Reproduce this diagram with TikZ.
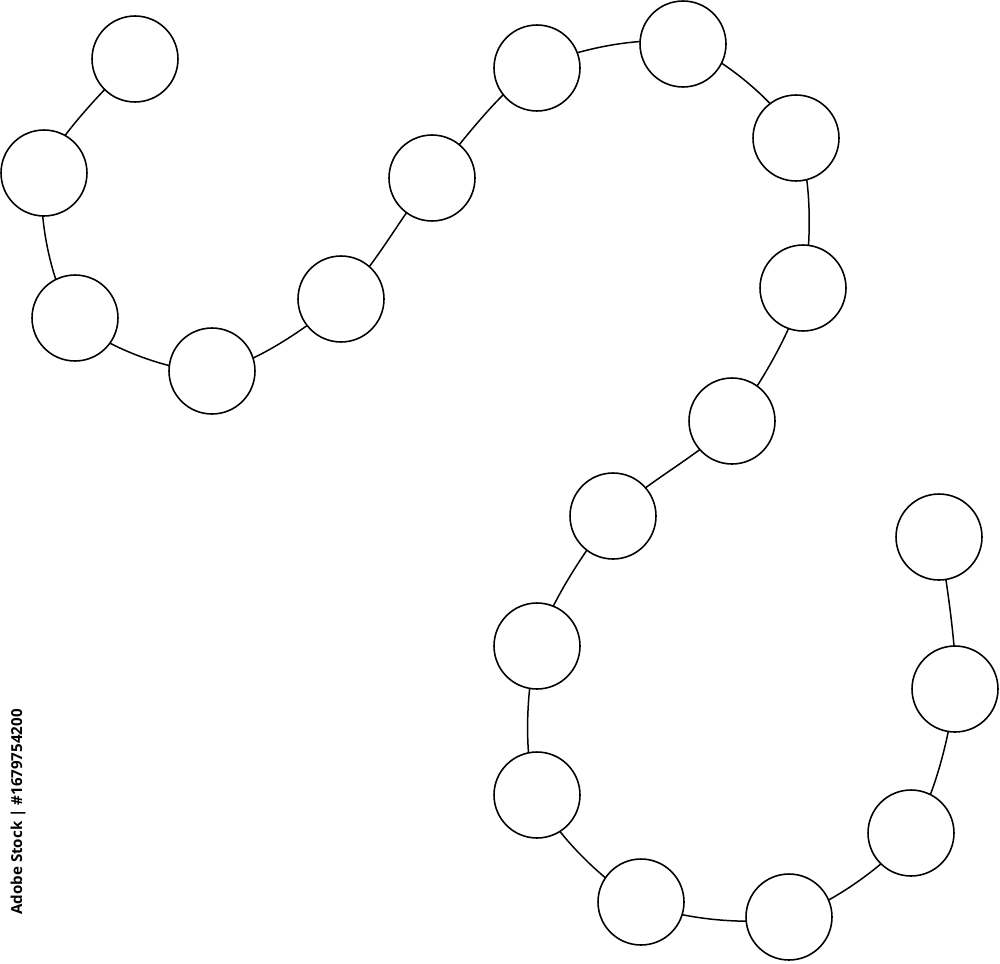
\documentclass[tikz,border=0pt]{standalone}
\usepackage{fontspec}
\newfontfamily\wmfont{Open Sans}
\usetikzlibrary{backgrounds}
\tikzset{
  ball/.style={circle, draw=black, fill=white, line width=0.9pt, minimum size=1.72cm, inner sep=0pt},
  link/.style={draw=black, line width=0.85pt},
}
\begin{document}
\begin{tikzpicture}[x=0.02cm, y=-0.02cm]
\useasboundingbox (0,0) rectangle (1000,963);
\node[ball] (n1) at (135,59) {};
\node[ball] (n2) at (44,173) {};
\node[ball] (n3) at (75,318) {};
\node[ball] (n4) at (212,371) {};
\node[ball] (n5) at (341,299) {};
\node[ball] (n6) at (432,178) {};
\node[ball] (n7) at (537,68) {};
\node[ball] (n8) at (683,44) {};
\node[ball] (n9) at (796,138) {};
\node[ball] (n10) at (803,288) {};
\node[ball] (n11) at (732,421) {};
\node[ball] (n12) at (613,516) {};
\node[ball] (n13) at (537,646) {};
\node[ball] (n14) at (537,795) {};
\node[ball] (n15) at (641,902) {};
\node[ball] (n16) at (789,917) {};
\node[ball] (n17) at (911,833) {};
\node[ball] (n18) at (955,689) {};
\node[ball] (n19) at (939,537) {};
\begin{scope}[on background layer]
\draw[link] plot[smooth] coordinates {(n1.center) (n2.center) (n3.center) (n4.center) (n5.center) (n6.center) (n7.center) (n8.center) (n9.center) (n10.center) (n11.center) (n12.center) (n13.center) (n14.center) (n15.center) (n16.center) (n17.center) (n18.center) (n19.center)};
\end{scope}
\node[rotate=90, font=\wmfont\bfseries\fontsize{8.6}{10}\selectfont, inner sep=0pt] (wm) at (18,812) {Adobe Stock | \#1679754200};
\end{tikzpicture}
\end{document}
